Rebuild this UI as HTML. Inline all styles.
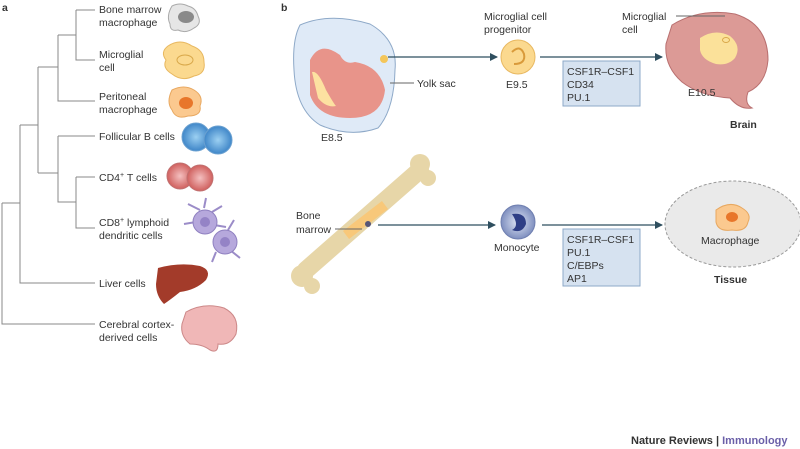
<!DOCTYPE html>
<html><head><meta charset="utf-8"><style>
html,body{margin:0;padding:0;background:#fff;width:800px;height:449px;overflow:hidden}
svg{display:block}
text{font-family:"Liberation Sans",sans-serif;font-size:10.5px;fill:#333}
.b{font-weight:bold}
</style></head><body>
<svg width="800" height="449" viewBox="0 0 800 449" xmlns="http://www.w3.org/2000/svg">
<defs>
<marker id="ar" markerWidth="8" markerHeight="8" refX="7" refY="4" orient="auto" markerUnits="userSpaceOnUse"><path d="M0,0 L8,4 L0,8 z" fill="#2f4f5f"/></marker>
<radialGradient id="bl"><stop offset="0" stop-color="#9cd0f2"/><stop offset="1" stop-color="#3f86c8"/></radialGradient>
<radialGradient id="rd"><stop offset="0" stop-color="#f4c0c0"/><stop offset="1" stop-color="#d0605e"/></radialGradient>
<radialGradient id="mo"><stop offset="0" stop-color="#dfe6f5"/><stop offset="1" stop-color="#7f8fbf"/></radialGradient>
</defs>
<text x="2" y="11" class="b">a</text>
<g stroke="#888" stroke-width="1" fill="none">
<path d="M76,10 H95 M76,10 V60 H95 M58,35 H76 M58,35 V101 H95 M38,67 H58 M38,67 V173 M58,136 H95 M58,136 V202 H76 M76,177 H95 M76,177 V228 H95 M38,173 H58 M20,125 H38 M20,125 V283 H95 M2,203 H20 M2,203 V324 H95"/>
</g>
<text x="99" y="13">Bone marrow</text><text x="99" y="26">macrophage</text>
<text x="99" y="58">Microglial</text><text x="99" y="71">cell</text>
<text x="99" y="100">Peritoneal</text><text x="99" y="113">macrophage</text>
<text x="99" y="140">Follicular B cells</text>
<text x="99" y="181">CD4<tspan font-size="7" dy="-4">+</tspan><tspan dy="4"> T cells</tspan></text>
<text x="99" y="226">CD8<tspan font-size="7" dy="-4">+</tspan><tspan dy="4"> lymphoid</tspan></text><text x="99" y="239">dendritic cells</text>
<text x="99" y="287">Liver cells</text>
<text x="99" y="328">Cerebral cortex-</text><text x="99" y="341">derived cells</text>
<path d="M172,6 Q180,2 188,6 Q196,8 198,16 Q202,24 194,28 Q186,34 178,30 Q170,32 170,24 Q166,16 172,6z" fill="#e6e6e6" stroke="#aaa"/>
<ellipse cx="186" cy="17" rx="8" ry="6" fill="#8a8a8a"/>
<path d="M168,46 Q180,38 192,46 Q204,50 204,62 Q206,74 194,76 Q182,82 172,74 Q162,68 166,60 Q160,52 168,46z" fill="#fbd98f" stroke="#e8b860"/>
<ellipse cx="185" cy="60" rx="8" ry="5" fill="none" stroke="#d9a84a"/>
<path d="M172,90 Q184,84 194,90 Q204,96 200,106 Q202,116 188,116 Q176,120 172,110 Q166,102 172,90z" fill="#fbc98f" stroke="#e8a860"/>
<ellipse cx="186" cy="103" rx="7" ry="6" fill="#e8762a"/>
<circle cx="196" cy="137" r="14" fill="url(#bl)" stroke="#6aa0d0"/><circle cx="218" cy="140" r="14" fill="url(#bl)" stroke="#6aa0d0"/>
<circle cx="180" cy="176" r="13" fill="url(#rd)" stroke="#c07070"/><circle cx="200" cy="178" r="13" fill="url(#rd)" stroke="#c07070"/>
<g stroke="#9b8cc8" stroke-width="2"><path d="M200,210 l-12,-6 M204,208 l2,-10 M212,212 l10,-6 M196,222 l-12,2 M214,225 l12,2 M222,238 l12,-4 M230,250 l10,8 M216,252 l-4,10 M228,230 l6,-10"/></g>
<circle cx="205" cy="222" r="12" fill="#b6a8dc" stroke="#8f80c0"/><circle cx="205" cy="222" r="5" fill="#9483c6"/>
<circle cx="225" cy="242" r="12" fill="#b6a8dc" stroke="#8f80c0"/><circle cx="225" cy="242" r="5" fill="#9483c6"/>
<path d="M158,268 Q180,262 200,266 Q212,270 206,280 Q196,290 180,292 Q170,300 164,304 Q156,296 156,284z" fill="#a33b2a"/>
<path d="M186,312 Q204,302 224,308 Q240,316 236,334 Q230,346 218,344 Q218,354 210,350 Q202,344 190,344 Q180,336 182,324z" fill="#f0b7b7" stroke="#c88"/>
<text x="281" y="11" class="b">b</text>
<path d="M300,25 Q330,12 370,24 Q398,40 395,70 Q394,110 378,128 Q350,138 320,125 Q296,110 294,70 Q292,40 300,25z" fill="#dfeaf7" stroke="#8ea9c8"/>
<path d="M310,60 Q320,40 340,55 Q345,65 355,62 Q380,66 385,90 Q382,118 350,118 Q318,118 310,95z" fill="#e8948a"/>
<path d="M312,72 Q318,70 326,90 Q334,104 336,106 Q326,108 318,98z" fill="#fde1a1"/>
<circle cx="384" cy="59" r="4" fill="#f4c65a"/>
<line x1="388" y1="57" x2="497" y2="57" stroke="#2f4f5f" stroke-width="1.3" marker-end="url(#ar)"/>
<line x1="390" y1="83" x2="414" y2="83" stroke="#666"/>
<text x="417" y="87">Yolk sac</text>
<text x="321" y="141">E8.5</text>
<text x="484" y="20">Microglial cell</text><text x="484" y="33">progenitor</text>
<circle cx="518" cy="57" r="17" fill="#fbd98f" stroke="#e8b860"/>
<path d="M512,52 Q520,44 524,54 Q526,64 514,64" fill="none" stroke="#d99a3a" stroke-width="2"/>
<text x="506" y="88">E9.5</text>
<line x1="540" y1="57" x2="662" y2="57" stroke="#2f4f5f" stroke-width="1.3" marker-end="url(#ar)"/>
<rect x="563" y="61" width="77" height="45" fill="#d6e2f0" stroke="#8ea9c8"/>
<text x="567" y="75">CSF1R–CSF1</text><text x="567" y="88">CD34</text><text x="567" y="101">PU.1</text>
<path d="M672,25 Q700,8 735,14 Q768,24 768,60 Q766,84 748,92 Q744,104 752,108 Q740,110 730,98 Q700,96 682,82 Q664,66 666,44z" fill="#dc9a96" stroke="#b97070"/>
<path d="M700,38 Q715,28 730,36 Q742,46 735,58 Q728,66 716,64 Q702,60 700,50z" fill="#fbe19a"/>
<ellipse cx="726" cy="40" rx="3.5" ry="2.5" fill="none" stroke="#d9a84a"/>
<line x1="676" y1="16" x2="725" y2="16" stroke="#666"/>
<text x="622" y="20">Microglial</text><text x="622" y="33">cell</text>
<text x="688" y="96">E10.5</text>
<text x="730" y="128" class="b">Brain</text>
<path d="M306,270 L420,170" stroke="#e7d6a8" stroke-width="18" stroke-linecap="round"/>
<circle cx="420" cy="164" r="10" fill="#e7d6a8"/><circle cx="428" cy="178" r="8" fill="#e7d6a8"/>
<circle cx="302" cy="276" r="11" fill="#e7d6a8"/><circle cx="312" cy="286" r="8" fill="#e7d6a8"/>
<path d="M346,235 L385,205" stroke="#f8c87a" stroke-width="10"/>
<circle cx="368" cy="224" r="3" fill="#557"/>
<line x1="335" y1="229" x2="362" y2="229" stroke="#666"/>
<text x="296" y="219">Bone</text><text x="296" y="233">marrow</text>
<line x1="378" y1="225" x2="495" y2="225" stroke="#2f4f5f" stroke-width="1.3" marker-end="url(#ar)"/>
<circle cx="518" cy="222" r="17" fill="url(#mo)" stroke="#6f7fb0"/>
<path d="M512,214 Q526,212 526,224 Q522,234 512,230 Q520,226 512,214z" fill="#2f3f86"/>
<text x="494" y="251">Monocyte</text>
<line x1="542" y1="225" x2="662" y2="225" stroke="#2f4f5f" stroke-width="1.3" marker-end="url(#ar)"/>
<rect x="563" y="229" width="77" height="57" fill="#d6e2f0" stroke="#8ea9c8"/>
<text x="567" y="243">CSF1R–CSF1</text><text x="567" y="256">PU.1</text><text x="567" y="269">C/EBPs</text><text x="567" y="282">AP1</text>
<ellipse cx="733" cy="224" rx="68" ry="43" fill="#eaeaea" stroke="#999" stroke-dasharray="3,2"/>
<path d="M716,210 Q730,200 742,208 Q752,214 748,222 Q746,232 732,230 Q718,232 716,222z" fill="#fbc98f" stroke="#e8a860"/>
<ellipse cx="732" cy="217" rx="6" ry="5" fill="#e8762a"/>
<text x="701" y="244">Macrophage</text>
<text x="714" y="283" class="b">Tissue</text>
<text x="631" y="444" class="b" style="font-size:11px">Nature Reviews | <tspan fill="#6a5fa8">Immunology</tspan></text>
</svg>
</body></html>
